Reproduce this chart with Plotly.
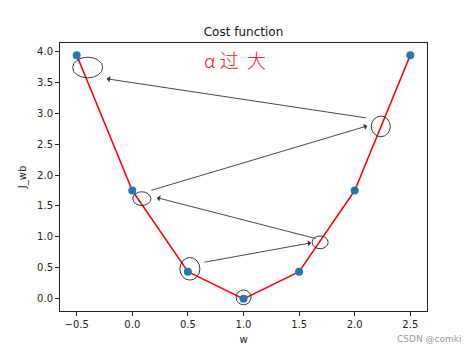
import plotly.graph_objects as go

w_vals = [-0.5, 0.0, 0.5, 1.0, 1.5, 2.0, 2.5]
cost_vals = [3.9375, 1.75, 0.4375, 0.0, 0.4375, 1.75, 3.9375]
x_ticks = [-0.5, 0.0, 0.5, 1.0, 1.5, 2.0, 2.5]
y_ticks = [0.0, 0.5, 1.0, 1.5, 2.0, 2.5, 3.0, 3.5, 4.0]

# hand-drawn circles (x0, y0, x1, y1) and arrows (tail_x, tail_y, head_x, head_y)
circles = [(-0.536, 3.571, -0.266, 3.905), (2.149, 2.619, 2.32, 2.952),
           (0.005, 1.508, 0.167, 1.73), (1.617, 0.81, 1.761, 1.016),
           (0.428, 0.302, 0.608, 0.667), (0.933, -0.095, 1.068, 0.143)]
arrows = [(2.113, 2.921, -0.23, 3.556), (0.158, 1.746, 2.113, 2.794),
          (1.662, 0.968, 0.221, 1.635), (0.635, 0.587, 1.608, 0.905)]

fig = go.Figure()
fig.add_trace(go.Scatter(x=w_vals, y=cost_vals, mode="lines",
                         line=dict(color="red", width=1.5), showlegend=False))
fig.add_trace(go.Scatter(x=w_vals, y=cost_vals, mode="markers",
                         marker=dict(color="#1f77b4", size=8), showlegend=False))

for (x0, y0, x1, y1) in circles:
    fig.add_shape(type="circle", xref="x", yref="y", x0=x0, y0=y0, x1=x1, y1=y1,
                  line=dict(color="#222", width=0.9))
for (tx, ty, hx, hy) in arrows:
    fig.add_annotation(x=hx, y=hy, ax=tx, ay=ty, xref="x", yref="y", axref="x", ayref="y",
                       showarrow=True, arrowhead=1, arrowsize=1.2, arrowwidth=0.9,
                       arrowcolor="#333", text="")

fig.add_annotation(x=0.92, y=3.86, xref="x", yref="y", text="α 过  大", showarrow=False,
                   font=dict(family="Noto Sans CJK SC", size=19, color="#e8242c", weight=300))
fig.add_annotation(x=1.0 + 36/367, y=-36/273, xref="paper", yref="paper",
                   xanchor="right", yanchor="bottom",
                   text="CSDN @comki", showarrow=False,
                   font=dict(family="DejaVu Sans", size=9, color="#999"))

axis_common = dict(showgrid=False, zeroline=False, showline=True, linecolor="#222",
                   linewidth=1, mirror=True, ticks="outside", ticklen=4, tickwidth=1,
                   tickcolor="#222", tickfont=dict(family="DejaVu Sans", size=10, color="#222"))
fig.update_xaxes(range=[-0.65, 2.65], tickvals=x_ticks,
                 ticktext=[f"{v:.1f}".replace("-", "\u2212") for v in x_ticks],
                 title=dict(text="w", font=dict(family="DejaVu Sans", size=10, color="#222"), standoff=6),
                 **axis_common)
fig.update_yaxes(range=[-0.197, 4.134], tickvals=y_ticks,
                 ticktext=[f"{v:.1f}" for v in y_ticks],
                 title=dict(text="J_wb", font=dict(family="DejaVu Sans", size=10, color="#222"), standoff=8),
                 **axis_common)
fig.update_layout(
    width=474, height=355,
    margin=dict(l=60, r=47, t=43, b=39),
    paper_bgcolor="white", plot_bgcolor="white",
    title=dict(text="Cost function", x=243.5/474, xanchor="center", y=1 - 32/355, yanchor="middle",
               font=dict(family="DejaVu Sans", size=12, color="#111")),
)
fig.write_html("out.html")
